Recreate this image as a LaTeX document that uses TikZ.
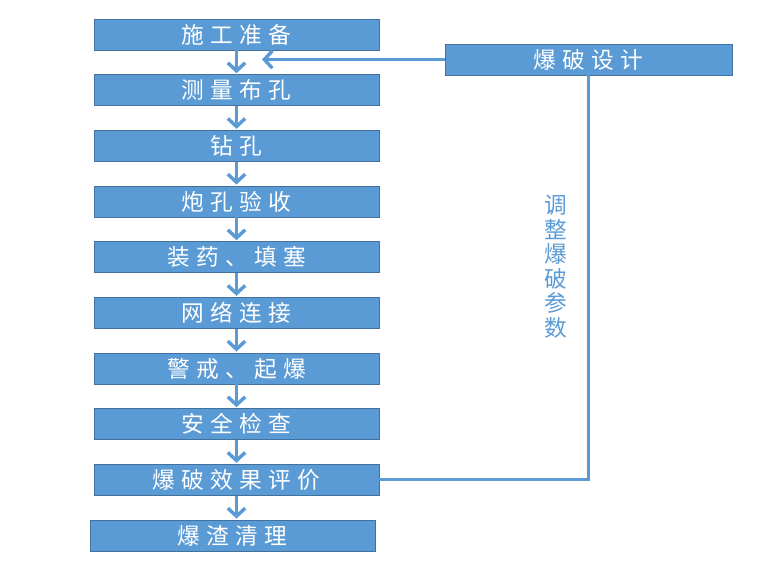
\documentclass[tikz,border=0pt]{standalone}
\usepackage{fontspec}
\newfontfamily\cjk[LetterSpace=28]{Noto Sans CJK SC}
\newfontfamily\cjkplain{Noto Sans CJK SC}
\usepackage{xcolor}
\definecolor{colorBox}{HTML}{5B9BD5}
\definecolor{colorBorder}{HTML}{41719C}
\colorlet{colorLink}{colorBox}
\usetikzlibrary{arrows.meta, positioning}

\begin{document}
\begin{tikzpicture}[x=0.75pt, y=0.75pt, node distance=17.9pt,
  stepbox/.style={draw=colorBorder, fill=colorBox, line width=0.6pt, minimum width=213.75pt, minimum height=23.25pt, inner sep=0pt, text=white, font=\cjk\fontsize{17pt}{20pt}\selectfont},
  flow/.style={-{Straight Barb[length=6pt,width=13pt]}, line width=2.6pt, colorLink},
  link/.style={line width=2.2pt, colorLink}]
\useasboundingbox (0,0) rectangle (760,-570);
\node[stepbox] (s1) at (236.5,-34.5) {施工准备};
\node[stepbox, below=of s1] (s2) {测量布孔};
\node[stepbox, below=of s2] (s3) {钻孔};
\node[stepbox, below=of s3] (s4) {炮孔验收};
\node[stepbox, below=of s4] (s5) {装药、填塞};
\node[stepbox, below=of s5] (s6) {网络连接};
\node[stepbox, below=of s6] (s7) {警戒、起爆};
\node[stepbox, below=of s7] (s8) {安全检查};
\node[stepbox, below=of s8] (s9) {爆破效果评价};
\node[stepbox, below=of s9, xshift=-3pt] (s10) {爆渣清理};
\node[stepbox, minimum width=215.25pt] (design) at (588.5,-59.5) {爆破设计};
\coordinate (tip) at (262,-59.5);
\node[text=colorLink, inner sep=0pt, align=center, font=\cjkplain\fontsize{17pt}{18.4pt}\selectfont] (adjust) at (556,-266.5) {调\\整\\爆\\破\\参\\数};
\foreach \a/\b in {s1/s2, s2/s3, s3/s4, s4/s5, s5/s6, s6/s7, s7/s8, s8/s9, s9/s10}
  \draw[flow, shorten >=0.8pt] (\a) -- (\a |- \b.north);
\draw[flow] (design) -- (tip);
\draw[link] (s9.east) -| (design.south);
\end{tikzpicture}
\end{document}
